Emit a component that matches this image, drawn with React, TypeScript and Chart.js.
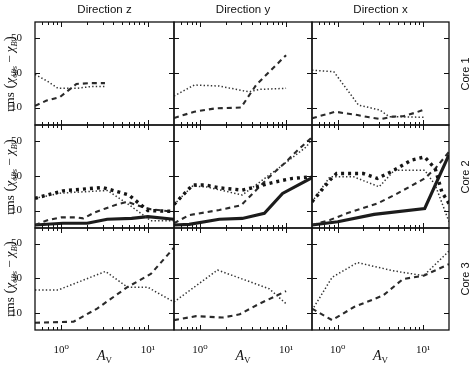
import React, { useEffect, useRef } from "react";
import { Chart, registerables } from "chart.js";
Chart.register(...registerables);

// ---------- axes ----------
const X_MIN = 0.5;
const X_MAX = 20;
const Y_MIN = 0;
const Y_MAX = 59;
const Y_TICKS = [10, 30, 50];
const X_MAJOR = [1, 10];
const X_MINOR = [0.6, 0.7, 0.8, 0.9, 2, 3, 4, 5, 6, 7, 8, 9];
const X_TICK_LABELS = ["10⁰", "10¹"];

const DIRECTIONS = ["Direction z", "Direction y", "Direction x"];
const CORES = ["Core 1", "Core 2", "Core 3"];

// ---------- Core 1 ----------
const c1z_dot_x = [0.5, 0.7, 0.92, 1.5, 2.2, 3.2];
const c1z_dot_y = [29, 25, 21, 21, 22, 22];
const c1z_dash_x = [0.5, 0.68, 0.97, 1.5, 2.2, 3.2];
const c1z_dash_y = [11, 14, 16, 23.5, 24, 24];

const c1y_dot_x = [0.5, 0.86, 1.68, 3.7, 4.9, 10];
const c1y_dot_y = [16.6, 22.9, 22.3, 19, 20.4, 21];
const c1y_dash_x = [0.5, 0.86, 1.5, 3.0, 4.5, 10];
const c1y_dash_y = [4, 7.6, 9.5, 10, 23, 40];

const c1x_dot_x = [0.5, 0.9, 1.75, 3.1, 4, 10.5];
const c1x_dot_y = [31.4, 30.5, 11.4, 8.6, 4.8, 4.4];
const c1x_dash_x = [0.5, 0.68, 0.94, 1.23, 1.7, 2.34, 3.2, 4.4, 5.9, 8, 10.5];
const c1x_dash_y = [3.8, 5.7, 7.6, 6.7, 5.7, 4.4, 3.4, 4.8, 5.1, 7, 9];

// ---------- Core 2 ----------
const c2z_thick_x = [0.5, 1.05, 3.0, 6.0, 10, 20];
const c2z_thick_y = [17, 21.3, 23.2, 19, 10, 9.5];
const c2z_dot_x = [0.5, 1.0, 3.4, 5.8, 8.3, 10.8, 20];
const c2z_dot_y = [17, 20, 21.5, 14, 8.4, 4.2, 4.2];
const c2z_dash_x = [0.5, 0.71, 1.0, 1.5, 1.8, 2.4, 3.25, 4.4, 5.8, 7.6, 10.8, 20];
const c2z_dash_y = [1.7, 4.6, 6.1, 6.1, 5.5, 8.8, 11.2, 13.5, 15, 13, 10.7, 9.3];
const c2z_solid_x = [0.5, 1.05, 2.0, 3.4, 6.5, 10, 20];
const c2z_solid_y = [1.7, 2.7, 2.7, 5, 5.5, 6.5, 5];

const c2y_thick_x = [0.5, 0.82, 1.17, 1.68, 3.1, 4.55, 6.4, 8.3, 11.9, 20];
const c2y_thick_y = [13.5, 24.6, 24.6, 23, 21.7, 23.6, 25.5, 26.9, 28.4, 29.3];
const c2y_dot_x = [0.5, 0.82, 1.2, 3.1, 5.3, 9.1, 17.2, 20];
const c2y_dot_y = [13.5, 24, 23.5, 18.9, 27.4, 36, 46.5, 51];
const c2y_dash_x = [0.5, 0.75, 1.68, 3.0, 4.5, 6.4, 10, 13, 20];
const c2y_dash_y = [2.7, 7.4, 10.3, 13, 21.7, 29.3, 37.9, 43.6, 52];
const c2y_solid_x = [0.5, 0.75, 1.68, 3.1, 5.6, 9.1, 20];
const c2y_solid_y = [1.7, 2.1, 5, 5.5, 8.4, 19.8, 28.8];

const c2x_thick_x = [0.5, 0.81, 0.97, 2.0, 2.9, 4.2, 7.3, 10.4, 13.8, 16.5, 20];
const c2x_thick_y = [15, 27.4, 31.2, 31.2, 28.4, 32.2, 38.9, 40.7, 34, 20.7, 14];
const c2x_dot_x = [0.5, 0.81, 1.54, 3.05, 4.6, 10.4, 13.8, 20];
const c2x_dot_y = [15, 29.3, 29.3, 23.6, 33.1, 33.1, 24.6, 3.6];
const c2x_dash_x = [0.5, 0.81, 1.28, 2.9, 5.0, 10.4, 13.8, 20];
const c2x_dash_y = [1.7, 4.6, 8.4, 14, 19.8, 28.4, 34, 43.6];
const c2x_solid_x = [0.5, 1.0, 2.66, 10.4, 20];
const c2x_solid_y = [1.7, 3.6, 7.8, 11.2, 42];

// ---------- Core 3 ----------
const c3z_dot_x = [0.5, 0.93, 3.25, 5.8, 9.9, 20];
const c3z_dot_y = [23.2, 23.2, 33.9, 24.8, 24.8, 16.2];
const c3z_dash_x = [0.5, 1.39, 2.6, 5.8, 10.8, 20];
const c3z_dash_y = [4.2, 4.8, 12.4, 24.8, 32.4, 47.6];

const c3y_dot_x = [0.5, 1.6, 6.4, 10];
const c3y_dot_y = [16.2, 34.7, 23.8, 15.2];
const c3y_dash_x = [0.5, 0.9, 1.83, 2.9, 4.9, 10];
const c3y_dash_y = [5.7, 8, 7.2, 9.1, 15.2, 22.5];

const c3x_dot_x = [0.5, 0.86, 1.7, 4.4, 10.1, 20];
const c3x_dot_y = [11.4, 30.5, 39, 34.3, 31.4, 45.7];
const c3x_dash_x = [0.5, 0.86, 1.55, 3.4, 5.8, 10.1, 20];
const c3x_dash_y = [12.4, 5.7, 13.3, 20, 29.5, 31.4, 38.1];

// ---------- layout ----------
const W = 474;
const H = 366;
const COL_EDGES = [35, 174, 312, 449];
const ROW_EDGES = [22, 125, 228, 330];

type StyleKey = "dot" | "dash" | "thick" | "solid";
const STYLES: Record<StyleKey, any> = {
  dot: { borderColor: "#333", borderWidth: 1.5, borderDash: [1.4, 2.2] },
  dash: { borderColor: "#2a2a2a", borderWidth: 2.1, borderDash: [5, 4] },
  thick: { borderColor: "#151515", borderWidth: 3.4, borderDash: [3, 4] },
  solid: { borderColor: "#1c1c1c", borderWidth: 3.1, borderDash: [] },
};

type Series = { style: StyleKey; xs: number[]; ys: number[] };
const PANELS: { row: number; col: number; series: Series[] }[] = [
  { row: 0, col: 0, series: [
    { style: "dot", xs: c1z_dot_x, ys: c1z_dot_y },
    { style: "dash", xs: c1z_dash_x, ys: c1z_dash_y } ] },
  { row: 0, col: 1, series: [
    { style: "dot", xs: c1y_dot_x, ys: c1y_dot_y },
    { style: "dash", xs: c1y_dash_x, ys: c1y_dash_y } ] },
  { row: 0, col: 2, series: [
    { style: "dot", xs: c1x_dot_x, ys: c1x_dot_y },
    { style: "dash", xs: c1x_dash_x, ys: c1x_dash_y } ] },
  { row: 1, col: 0, series: [
    { style: "thick", xs: c2z_thick_x, ys: c2z_thick_y },
    { style: "dot", xs: c2z_dot_x, ys: c2z_dot_y },
    { style: "dash", xs: c2z_dash_x, ys: c2z_dash_y },
    { style: "solid", xs: c2z_solid_x, ys: c2z_solid_y } ] },
  { row: 1, col: 1, series: [
    { style: "thick", xs: c2y_thick_x, ys: c2y_thick_y },
    { style: "dot", xs: c2y_dot_x, ys: c2y_dot_y },
    { style: "dash", xs: c2y_dash_x, ys: c2y_dash_y },
    { style: "solid", xs: c2y_solid_x, ys: c2y_solid_y } ] },
  { row: 1, col: 2, series: [
    { style: "thick", xs: c2x_thick_x, ys: c2x_thick_y },
    { style: "dot", xs: c2x_dot_x, ys: c2x_dot_y },
    { style: "dash", xs: c2x_dash_x, ys: c2x_dash_y },
    { style: "solid", xs: c2x_solid_x, ys: c2x_solid_y } ] },
  { row: 2, col: 0, series: [
    { style: "dot", xs: c3z_dot_x, ys: c3z_dot_y },
    { style: "dash", xs: c3z_dash_x, ys: c3z_dash_y } ] },
  { row: 2, col: 1, series: [
    { style: "dot", xs: c3y_dot_x, ys: c3y_dot_y },
    { style: "dash", xs: c3y_dash_x, ys: c3y_dash_y } ] },
  { row: 2, col: 2, series: [
    { style: "dot", xs: c3x_dot_x, ys: c3x_dot_y },
    { style: "dash", xs: c3x_dash_x, ys: c3x_dash_y } ] },
];

const SERIF = "'Liberation Serif', 'DejaVu Serif', serif";
const SANS = "'Liberation Sans', Arial, sans-serif";

const framePlugin = {
  id: "frameTicks",
  afterDatasetsDraw(chart: any) {
    const { ctx, chartArea: a, scales } = chart;
    const xs = scales.x;
    const ys = scales.y;
    ctx.save();
    ctx.strokeStyle = "#111";
    ctx.lineWidth = 1;
    ctx.beginPath();
    const xt = (v: number, len: number) => {
      const px = Math.round(xs.getPixelForValue(v)) + 0.5;
      ctx.moveTo(px, a.top);
      ctx.lineTo(px, a.top + len);
      ctx.moveTo(px, a.bottom);
      ctx.lineTo(px, a.bottom - len);
    };
    X_MINOR.forEach((v) => xt(v, 3));
    X_MAJOR.forEach((v) => xt(v, 5));
    Y_TICKS.forEach((v) => {
      const py = Math.round(ys.getPixelForValue(v)) + 0.5;
      ctx.moveTo(a.left, py);
      ctx.lineTo(a.left + 5, py);
      ctx.moveTo(a.right, py);
      ctx.lineTo(a.right - 5, py);
    });
    ctx.stroke();
    ctx.lineWidth = 1.3;
    ctx.strokeRect(a.left, a.top, a.right - a.left, a.bottom - a.top);
    ctx.restore();
  },
};

function Panel({ row, col, series }: { row: number; col: number; series: Series[] }) {
  const ref = useRef<HTMLCanvasElement>(null);
  useEffect(() => {
    const L = COL_EDGES[col];
    const R = COL_EDGES[col + 1];
    const T = ROW_EDGES[row];
    const B = ROW_EDGES[row + 1];
    const showY = col === 0;
    const showX = row === 2;
    const chart = new Chart(ref.current!, {
      type: "line",
      data: {
        datasets: series.map((s) => ({
          data: s.xs.map((x, i) => ({ x, y: s.ys[i] })),
          pointRadius: 0,
          tension: 0,
          fill: false,
          borderCapStyle: "butt",
          borderJoinStyle: "miter",
          ...STYLES[s.style],
        })),
      },
      options: {
        animation: false,
        responsive: false,
        events: [],
        layout: {
          padding: {
            left: showY ? 0 : L,
            right: W - R,
            top: T,
            bottom: showX ? 0 : H - B,
          },
        },
        plugins: { legend: { display: false }, tooltip: { enabled: false }, title: { display: false } },
        scales: {
          x: {
            type: "logarithmic",
            min: X_MIN,
            max: X_MAX,
            display: showX,
            grid: { display: false },
            border: { display: false },
            afterBuildTicks: (s: any) => {
              s.ticks = X_MAJOR.map((v) => ({ value: v }));
            },
            afterFit: (s: any) => {
              if (showX) s.height = H - B;
            },
            ticks: {
              autoSkip: false,
              maxRotation: 0,
              padding: 6,
              color: "#111",
              font: { family: SERIF, size: 11 },
              callback: (v: any) => {
                const i = X_MAJOR.indexOf(Number(v));
                return i >= 0 ? X_TICK_LABELS[i] : "";
              },
            },
          },
          y: {
            type: "linear",
            min: Y_MIN,
            max: Y_MAX,
            display: showY,
            grid: { display: false },
            border: { display: false },
            afterBuildTicks: (s: any) => {
              s.ticks = Y_TICKS.map((v) => ({ value: v }));
            },
            afterFit: (s: any) => {
              if (showY) s.width = L;
            },
            ticks: {
              padding: 5,
              color: "#111",
              font: { family: SERIF, size: 11 },
            },
          },
        },
      },
      plugins: [framePlugin],
    } as any);
    return () => chart.destroy();
  }, [row, col, series]);
  return (
    <canvas
      ref={ref}
      width={W}
      height={H}
      style={{ position: "absolute", left: 0, top: 0, width: W, height: H }}
    />
  );
}

function Rotated({ cx, cy, w, children, style }: any) {
  return (
    <div
      style={{
        position: "absolute",
        left: cx - w / 2,
        top: cy - 8,
        width: w,
        height: 16,
        lineHeight: "16px",
        textAlign: "center",
        whiteSpace: "nowrap",
        transform: "rotate(-90deg)",
        transformOrigin: "50% 50%",
        ...style,
      }}
    >
      {children}
    </div>
  );
}

export default function App() {
  const colCenters = [0, 1, 2].map((c) => (COL_EDGES[c] + COL_EDGES[c + 1]) / 2);
  const rowCenters = [0, 1, 2].map((r) => (ROW_EDGES[r] + ROW_EDGES[r + 1]) / 2);
  const subStyle = { fontSize: 8.5, fontStyle: "italic", position: "relative" as const, top: 3, verticalAlign: "baseline" };
  return (
    <div style={{ position: "absolute", left: 0, top: 0, width: W, height: H, background: "#fff", overflow: "hidden" }}>
      {PANELS.map((p) => (
        <Panel key={`${p.row}-${p.col}`} row={p.row} col={p.col} series={p.series} />
      ))}
      {DIRECTIONS.map((d, i) => (
        <div
          key={d}
          style={{
            position: "absolute",
            left: colCenters[i] - 60,
            top: 1,
            width: 120,
            textAlign: "center",
            fontFamily: SANS,
            fontSize: 11.5,
            lineHeight: "16px",
            color: "#111",
          }}
        >
          {d}
        </div>
      ))}
      {CORES.map((c, i) => (
        <Rotated key={c} cx={465} cy={rowCenters[i]} w={60} style={{ fontFamily: SANS, fontSize: 11, color: "#111" }}>
          {c}
        </Rotated>
      ))}
      {rowCenters.map((cy, i) => (
        <Rotated key={"yt" + i} cx={9} cy={cy} w={110} style={{ fontFamily: SERIF, fontSize: 13, color: "#111" }}>
          <span>rms</span>
          <span style={{ fontSize: 15 }}> (</span>
          <i>χ</i>
          <span style={subStyle}>obs</span>
          <span> − </span>
          <i>χ</i>
          <span style={subStyle}>B</span>
          <span style={{ fontSize: 15 }}>)</span>
        </Rotated>
      ))}
      {colCenters.map((cx, i) => (
        <div
          key={"xt" + i}
          style={{
            position: "absolute",
            left: cx - 30,
            top: 348,
            width: 60,
            textAlign: "center",
            fontFamily: SERIF,
            fontSize: 14,
            lineHeight: "16px",
            color: "#111",
          }}
        >
          <i>A</i>
          <span style={{ fontSize: 9, position: "relative", top: 3 }}>V</span>
        </div>
      ))}
    </div>
  );
}
